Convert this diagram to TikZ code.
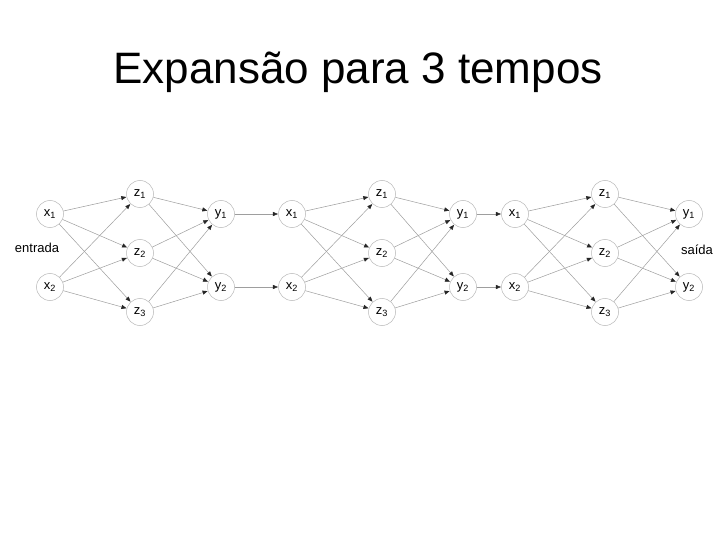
\documentclass[tikz,border=0pt]{standalone}
\usepackage{fontspec}
\setmainfont{Liberation Sans}
\usetikzlibrary{arrows.meta}
\begin{document}
\begin{tikzpicture}[x=1pt,y=-1pt,
  neuron/.style={circle,draw=black!28,line width=0.5pt,minimum size=27pt,inner sep=0pt,
    font=\fontsize{13}{15}\selectfont},
  conn/.style={draw=black!38,line width=0.5pt,
    -{Triangle[length=5pt,width=4pt,color=black!85]},shorten >=0.3pt},
  lbl/.style={font=\fontsize{13}{15}\selectfont,inner sep=0pt}]
\useasboundingbox[fill=white] (0,0) rectangle (720,540);
\node[font=\fontsize{44}{50}\selectfont,anchor=base,inner sep=0pt] (title) at (358,83.3) {Expans\~ao para 3 tempos};
% blocks
\foreach \b/\xx/\zx/\yx in {1/50/140/221, 2/292/382/463, 3/515/605/689}{
  \node[neuron] (x1\b) at (\xx,214) {x\textsubscript{1}};
  \node[neuron] (x2\b) at (\xx,287) {x\textsubscript{2}};
  \node[neuron] (z1\b) at (\zx,194) {z\textsubscript{1}};
  \node[neuron] (z2\b) at (\zx,253) {z\textsubscript{2}};
  \node[neuron] (z3\b) at (\zx,312) {z\textsubscript{3}};
  \node[neuron] (y1\b) at (\yx,214) {y\textsubscript{1}};
  \node[neuron] (y2\b) at (\yx,287) {y\textsubscript{2}};
  \foreach \i in {1,2}{
    \foreach \j in {1,2,3}{
      \draw[conn] (x\i\b) -- (z\j\b);
      \draw[conn] (z\j\b) -- (y\i\b);
    }
  }
}
\foreach \b/\n in {1/2, 2/3}{
  \draw[conn] (y1\b) -- (x1\n);
  \draw[conn] (y2\b) -- (x2\n);
}
\node[lbl] (entrada) at (37,248) {entrada};
\node[lbl] (saida) at (697,250) {sa\'ida};
\end{tikzpicture}
\end{document}
